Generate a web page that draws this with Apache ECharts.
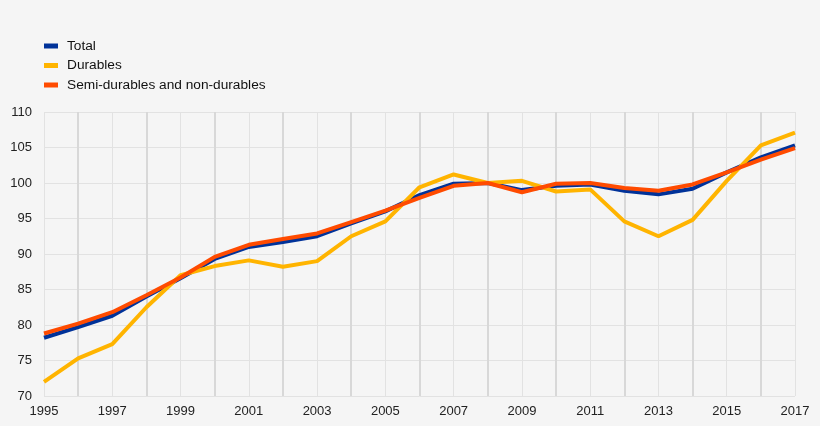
<!DOCTYPE html>
<html><head><meta charset="utf-8">
<script src="https://cdn.jsdelivr.net/npm/echarts@6/dist/echarts.min.js"></script>
<style>html,body{margin:0;padding:0;background:#f5f5f5}#c{width:820px;height:426px}</style>
</head><body><div id="c"></div>
<script>
const years = [1995,1996,1997,1998,1999,2000,2001,2002,2003,2004,2005,2006,2007,2008,2009,2010,2011,2012,2013,2014,2015,2016,2017];
const total = [78.2,79.7,81.3,84.0,86.6,89.3,91.0,91.7,92.5,94.3,96.0,98.3,99.9,100.0,99.0,99.6,99.8,98.9,98.4,99.2,101.5,103.6,105.3];
const durables = [72.0,75.3,77.3,82.5,87.0,88.3,89.1,88.2,89.0,92.5,94.6,99.4,101.2,100.0,100.3,98.8,99.1,94.6,92.5,94.8,100.3,105.3,107.1];
const semiDurables = [78.8,80.2,81.8,84.2,86.7,89.6,91.3,92.1,92.9,94.5,96.1,97.9,99.6,100.0,98.7,99.9,100.0,99.3,98.9,99.8,101.5,103.3,104.9];
const seriesNames = ['Total','Durables','Semi-durables and non-durables'];
const colors = ['#003299','#ffb400','#ff4b00'];

const pairs = a => years.map((y,i)=>[y,a[i]]);
const chart = echarts.init(document.getElementById('c'));
const font = 'Liberation Sans, Arial, sans-serif';
chart.setOption({
  backgroundColor:'#f5f5f5',
  animation:false,
  color:colors,
  legend:{
    orient:'vertical', left:39, top:34, itemWidth:14, itemHeight:5, itemGap:5.5,
    icon:'rect',
    textStyle:{fontFamily:font,fontSize:13.7,color:'#111',padding:[0,0,0,4]},
    data:seriesNames
  },
  grid:{left:44,right:25,top:112,bottom:30},
  xAxis:[{
    type:'value', min:1995, max:2017, interval:1,
    axisLine:{show:false}, axisTick:{show:false},
    axisLabel:{fontFamily:font,fontSize:13,color:'#222',margin:9,
      formatter:v=> (v-1995)%2===0 ? String(v) : ''},
    splitLine:{show:true,lineStyle:{color:'#e2e2e2',width:1}}
  },{
    type:'value', min:1995, max:2017, interval:1, position:'bottom',
    axisLine:{show:false}, axisTick:{show:false}, axisLabel:{show:false},
    splitLine:{show:true,lineStyle:{color:['rgba(0,0,0,0)','#d8d8d8'],width:2}}
  }],
  yAxis:{
    type:'value', min:70, max:110, interval:5,
    axisLine:{show:false}, axisTick:{show:false},
    axisLabel:{fontFamily:font,fontSize:13,color:'#222',margin:12},
    splitLine:{show:true,lineStyle:{color:'#e2e2e2',width:1}}
  },
  series:[
    {name:seriesNames[0],type:'line',data:pairs(total),symbol:'none',lineStyle:{width:4},z:3},
    {name:seriesNames[1],type:'line',data:pairs(durables),symbol:'none',lineStyle:{width:4},z:4},
    {name:seriesNames[2],type:'line',data:pairs(semiDurables),symbol:'none',lineStyle:{width:4},z:5}
  ]
});
</script></body></html>
